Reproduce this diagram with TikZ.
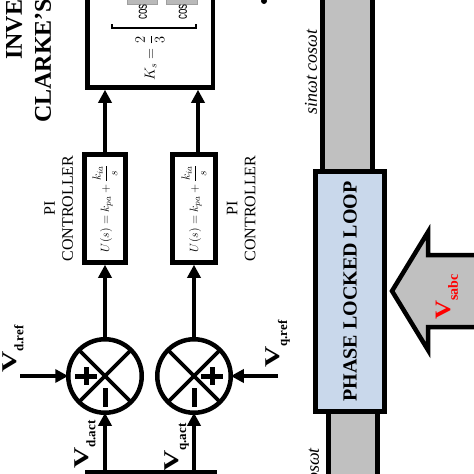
\documentclass[tikz,border=0pt]{standalone}
\usepackage{amsmath}
\usepackage{fontspec}
\setmainfont{Liberation Serif}
\setsansfont{Liberation Sans}
\usetikzlibrary{arrows.meta,calc}

\definecolor{pllblue}{RGB}{201,216,235}
\definecolor{bargray}{RGB}{192,192,192}

\newcommand{\vsig}[1]{\scalebox{1.4}[1]{V}\raisebox{-.35em}{\fontsize{13}{13}\selectfont #1}}

\begin{document}
\begin{tikzpicture}[x=1pt,y=-1pt,
  blk/.style={draw,line width=4.5pt,fill=white,inner sep=0pt},
  sig/.style={line width=4.5pt,-{Triangle[length=13pt,width=13pt]}},
  summer/.style={circle,draw,line width=4.5pt,minimum size=73.5pt,inner sep=0pt,outer sep=0pt},
  xline/.style={line width=3.8pt},
  pm/.style={line width=5pt},
  vlab/.style={rotate=90,inner sep=0pt,font=\bfseries\fontsize{21}{21}\selectfont},
  pilab/.style={rotate=90,align=center,inner sep=0pt,font=\fontsize{16}{18}\selectfont},
  bar/.style={draw,line width=5pt,fill=bargray}]

\useasboundingbox (0,0) rectangle (474,474);
\clip (0,0) rectangle (474,474);

% inverse clarke block
\node[blk,minimum width=125.5pt,minimum height=150pt] (clarke) at (150.25,12.5) {};
\fill[gray!55,draw=gray!75] (127,-20) rectangle (157,4);
\fill[gray!55,draw=gray!75] (166,-20) rectangle (197,4);
\draw[line width=1.2pt] (112,24) -- (112,28) -- (196,28) -- (196,24);
\node[rotate=90,inner sep=0pt,font=\sffamily\fontsize{15}{15}\selectfont] (cos1) at (143,12) {\scalebox{.65}[1]{cos}};
\node[rotate=90,inner sep=0pt,font=\sffamily\fontsize{15}{15}\selectfont] (cos2) at (183,12) {\scalebox{.65}[1]{cos}};
\node[rotate=90,anchor=west,inner sep=0pt,font=\fontsize{14.5}{14.5}\selectfont] (ks) at (150,81) {$K_s=\dfrac{2}{3}$};
\node[rotate=90,anchor=west,inner sep=0pt,font=\bfseries\fontsize{24}{24}\selectfont] (inv) at (14,60) {INVERSE};
\node[rotate=90,anchor=west,inner sep=0pt,font=\bfseries\fontsize{24}{24}\selectfont] (clk) at (43,123) {CLARKE'S};

% PI controllers
\node[blk,minimum width=41pt,minimum height=108pt] (pi1) at (105,208.5) {};
\node[blk,minimum width=43pt,minimum height=108pt] (pi2) at (194,208.5) {};
\node[rotate=90,font=\fontsize{13}{13}\selectfont] (u1) at (pi1) {$U(s)=k_{pa}+\dfrac{k_{ia}}{s}$};
\node[rotate=90,font=\fontsize{13}{13}\selectfont] (u2) at (pi2) {$U(s)=k_{pa}+\dfrac{k_{ia}}{s}$};
\node[pilab,anchor=south] (pil1) at ($(pi1.west)+(-9,0)$) {PI\\CONTROLLER};
\node[pilab,anchor=north] (pil2) at ($(pi2.east)+(9,0)$) {PI\\CONTROLLER};

% summing junctions
\node[summer] (s1) at (105,376) {};
\node[summer] (s2) at (194,376) {};
\draw[xline] (s1.45) -- (s1.225) (s1.135) -- (s1.315);
\draw[xline] (s2.45) -- (s2.225) (s2.135) -- (s2.315);
\draw[pm] ($(s1)+(-30,0)$) -- ($(s1)+(-8,0)$) ($(s1)+(-19,-9)$) -- ($(s1)+(-19,9)$);
\draw[pm] ($(s1)+(0,12)$) -- ($(s1)+(0,31)$);
\draw[pm] ($(s2)+(7,0)$) -- ($(s2)+(29,0)$) ($(s2)+(18,-9)$) -- ($(s2)+(18,9)$);
\draw[pm] ($(s2)+(0,12)$) -- ($(s2)+(0,31)$);

\node[blk,minimum width=127pt,minimum height=60pt] (park) at (151,502) {};

\coordinate (vdref) at (20,376);
\coordinate (vqref) at (278,376);
\draw[sig] (vdref) -- (s1.west);
\draw[sig] (vqref) -- (s2.east);
\draw[sig] (s1.south |- park.north) -- (s1.south);
\draw[sig] (s2.south |- park.north) -- (s2.south);
\draw[sig] (s1.north) -- (pi1.south);
\draw[sig] (s2.north) -- (pi2.south);
\draw[sig] (pi1.north) -- (pi1.north |- clarke.south);
\draw[sig] ([xshift=4pt]pi2.north) -- ([xshift=4pt]pi2.north |- clarke.south);

\node[vlab,anchor=west] (lvdref) at (13,373) {\vsig{d.ref}};
\node[vlab,anchor=west] (lvqref) at (278,368) {\vsig{q.ref}};
\node[vlab,anchor=west] (lvdact) at (85,469) {\vsig{d.act}};
\node[vlab,anchor=west] (lvqact) at (177,472) {\vsig{q.act}};

% phase locked loop
\draw[bar] (322.5,-20) rectangle (372.5,171);
\draw[bar] (328.5,411) rectangle (377.5,500);
\node[draw,line width=4.5pt,fill=pllblue,minimum width=69pt,minimum height=240pt,inner sep=0pt] (pll) at (350,291.5) {};
\node[rotate=90,font=\bfseries\fontsize{20}{20}\selectfont] (plltxt) at (pll) {PHASE LOCKED LOOP};
\draw[line width=4.5pt,fill=bargray,line join=miter] (392,291) -- (428,232) -- (428,255) -- (490,255) -- (490,327) -- (428,327) -- (428,350) -- cycle;
\node[rotate=90,text=red,inner sep=0pt,font=\bfseries\fontsize{22}{22}\selectfont] (vsabc) at (447,297) {\scalebox{1.2}[1]{V}\raisebox{-.35em}{\fontsize{14}{14}\selectfont sabc}};
\node[rotate=90,inner sep=0pt,font=\itshape\fontsize{18}{18}\selectfont] (sinw) at (311,72) {sinωt cosωt};
\node[rotate=90,anchor=east,inner sep=0pt,font=\itshape\fontsize{18}{18}\selectfont] (cosw) at (314,448) {cosωt};
\fill (264,1) circle (3pt);
\end{tikzpicture}
\end{document}
